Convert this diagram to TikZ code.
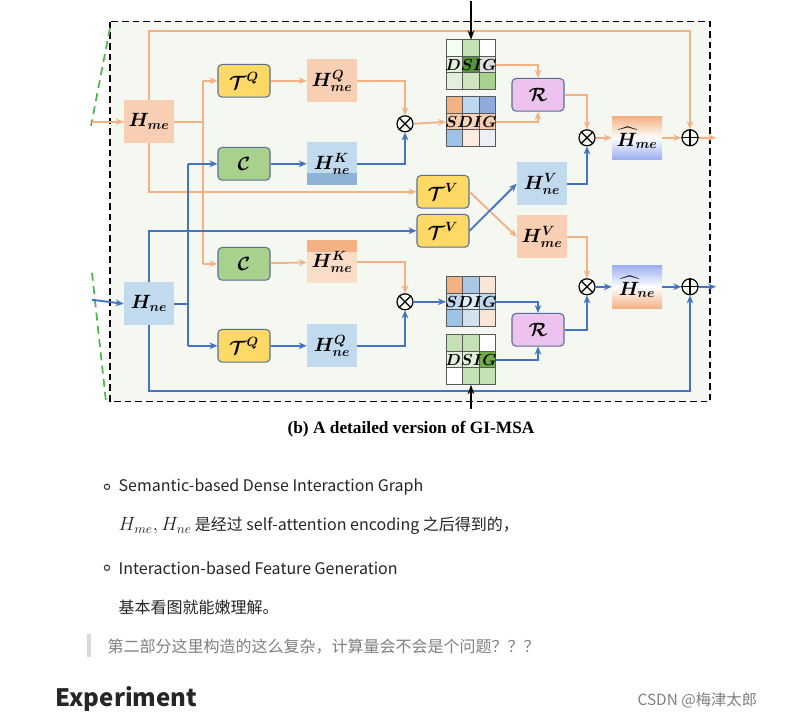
\documentclass[tikz,border=0pt]{standalone}
\usepackage{amsmath,bm}
\usepackage{fontspec}
\newfontfamily\cjk{Noto Sans CJK SC}
\newfontfamily\capf{Liberation Serif}
\usetikzlibrary{arrows.meta,calc}
\definecolor{oc}{HTML}{F4B183}
\definecolor{bc}{HTML}{4472C4}
\definecolor{bd}{HTML}{5A6F94}
\definecolor{ob}{HTML}{F8CFB2}
\definecolor{bb}{HTML}{C2DAEE}
\definecolor{bk}{HTML}{8FB3D6}
\definecolor{yb}{HTML}{FFD966}
\definecolor{gb}{HTML}{A9D18E}
\definecolor{pb}{HTML}{EEC2EE}
\definecolor{bg}{HTML}{F4F8F1}
\newcommand\mygrid[5]{%
 \node[minimum width=37.2pt,minimum height=37.2pt,inner sep=0] (#1) at (#2,#3) {};
 \foreach \c [count=\i from 0] in {#4}{%
   \pgfmathtruncatemacro\r{int(\i/3)}\pgfmathtruncatemacro\k{mod(\i,3)}%
   \fill[fill=\c,draw=gray!70!black,line width=0.5pt] ($(#1.north west)+(\k*16.5,\r*16.5)$) rectangle ++(16.5,16.5);}
 \node[font=\large] at (#1) {$\bm{#5}$};}
\begin{document}
\begin{tikzpicture}[x=0.75pt,y=-0.75pt,
 box/.style={minimum width=37.5pt,minimum height=32pt,inner sep=0,font=\Large},
 op/.style={rounded corners=3pt,draw=bd,line width=0.8pt,minimum width=39pt,minimum height=24.5pt,inner sep=0,font=\Large},
 ol/.style={draw=oc,line width=1.4pt},
 bl/.style={draw=bc,line width=1.4pt},
 oa/.style={ol,-{Stealth[length=6pt,width=5pt]}},
 ba/.style={bl,-{Stealth[length=6pt,width=5pt]}},
 ka/.style={line width=1.2pt,-{Stealth[length=7pt,width=5pt]}},
 ot/.style={circle,draw,line width=0.9pt,minimum size=12pt,inner sep=0},
 lab/.style={font=\cjk\fontsize{12}{14}\selectfont,anchor=west,text=black!85}]
\fill[white] (0,0) rectangle (793,719);
\fill[bg] (110,21) rectangle (710,401);
\draw[dashed,line width=0.9pt,dash pattern=on 5pt off 3pt] (110,21) rectangle (710,401);
\draw[green!60!black!70,dashed,line width=1.3pt,dash pattern=on 6pt off 4pt] (110,27) -- (91,125);
\draw[green!60!black!70,dashed,line width=1.3pt,dash pattern=on 6pt off 4pt] (92,272) -- (106,401);
% top half
\node[box,fill=ob] (Hme) at (149,121) {$\bm{H_{me}}$};
\node[op,fill=yb] (TQa) at (244,80) {$\bm{\mathcal{T}^Q}$};
\node[box,fill=ob] (HmeQ) at (332,80) {$\bm{H^Q_{me}}$};
\node[op,fill=gb] (Ca) at (244,163) {$\bm{\mathcal{C}}$};
\node[box,inner sep=0] (HneK) at (332,163) {};
\fill[bb] (HneK.north west) rectangle (HneK.south east);
\fill[bk] ([yshift=-7pt]HneK.west) rectangle (HneK.south east);
\node[font=\Large] at (HneK) {$\bm{H^K_{ne}}$};
\node[ot] (x1) at (405,123) {}; \draw[line width=0.9pt] (x1.45)--(x1.225) (x1.135)--(x1.315);
\mygrid{Da}{471}{64}{white!95!green,{rgb,255:red,197;green,224;blue,180},white,{rgb,255:red,226;green,239;blue,218},{rgb,255:red,84;green,150;blue,53},{rgb,255:red,222;green,222;blue,222},{rgb,255:red,226;green,239;blue,218},{rgb,255:red,208;green,228;blue,192},{rgb,255:red,169;green,209;blue,142}}{DSIG}
\mygrid{Sa}{471}{121}{{rgb,255:red,244;green,177;blue,131},{rgb,255:red,189;green,215;blue,238},{rgb,255:red,143;green,170;blue,220},{rgb,255:red,248;green,203;blue,173},{rgb,255:red,248;green,214;blue,190},{rgb,255:red,248;green,203;blue,173},{rgb,255:red,157;green,195;blue,230},{rgb,255:red,251;green,236;blue,224},{rgb,255:red,234;green,240;blue,246}}{SDIG}
\node[op,fill=pb] (Ra) at (538,94) {$\bm{\mathcal{R}}$};
\node[ot] (x2) at (587,137) {}; \draw[line width=0.9pt] (x2.45)--(x2.225) (x2.135)--(x2.315);
\node[box,top color=oc,bottom color=bb!80!blue,middle color=white] (Hmeh) at (637,137) {$\widehat{\bm{H}}_{\bm{me}}$};
\node[ot] (p1) at (690,137) {}; \draw[line width=0.9pt] (p1.north)--(p1.south) (p1.west)--(p1.east);
\node[op,fill=yb] (TVa) at (443,191) {$\bm{\mathcal{T}^V}$};
\node[op,fill=yb] (TVb) at (443,230) {$\bm{\mathcal{T}^V}$};
\node[box,fill=bb] (HneV) at (542,183) {$\bm{H^V_{ne}}$};
\node[box,fill=ob] (HmeV) at (542,236) {$\bm{H^V_{me}}$};
% bottom half
\node[box,fill=bb] (Hne) at (149,303) {$\bm{H_{ne}}$};
\node[op,fill=gb] (Cb) at (244,263) {$\bm{\mathcal{C}}$};
\node[box] (HmeK) at (332,261) {};
\fill[ob!70!white] (HmeK.north west) rectangle (HmeK.south east);
\fill[oc] (HmeK.north west) rectangle ([yshift=-9pt]HmeK.north east);
\node[font=\Large] at (HmeK) {$\bm{H^K_{me}}$};
\node[op,fill=yb] (TQb) at (244,345) {$\bm{\mathcal{T}^Q}$};
\node[box,fill=bb] (HneQ) at (332,345) {$\bm{H^Q_{ne}}$};
\node[ot] (x3) at (405,301) {}; \draw[line width=0.9pt] (x3.45)--(x3.225) (x3.135)--(x3.315);
\mygrid{Sb}{471}{301}{{rgb,255:red,244;green,177;blue,131},{rgb,255:red,170;green,200;blue,230},{rgb,255:red,251;green,229;blue,214},{rgb,255:red,189;green,215;blue,238},{rgb,255:red,222;green,235;blue,247},{rgb,255:red,189;green,215;blue,238},{rgb,255:red,157;green,195;blue,230},{rgb,255:red,210;green,225;blue,238},{rgb,255:red,251;green,229;blue,214}}{SDIG}
\mygrid{Db}{471}{359}{{rgb,255:red,197;green,224;blue,180},{rgb,255:red,197;green,224;blue,180},white,{rgb,255:red,226;green,239;blue,218},{rgb,255:red,226;green,239;blue,218},{rgb,255:red,112;green,173;blue,71},white,{rgb,255:red,197;green,224;blue,180},{rgb,255:red,197;green,224;blue,180}}{DSIG}
\node[op,fill=pb] (Rb) at (538,329) {$\bm{\mathcal{R}}$};
\node[ot] (x4) at (587,286) {}; \draw[line width=0.9pt] (x4.45)--(x4.225) (x4.135)--(x4.315);
\node[box,top color=bb!80!blue,bottom color=oc,middle color=white] (Hneh) at (637,286) {$\widehat{\bm{H}}_{\bm{ne}}$};
\node[ot] (p2) at (690,286) {}; \draw[line width=0.9pt] (p2.north)--(p2.south) (p2.west)--(p2.east);
% coordinates
\coordinate (inA) at (92,121); \coordinate (inB) at (92,299);
\coordinate (outA) at (716,137); \coordinate (outB) at (716,286);
\coordinate (ja) at (203,121); \coordinate (jb) at (188,303);
\coordinate (ktop) at (471,0); \coordinate (kbot) at (471,408);
% top connectors (orange)
\draw[oa] (inA) -- (Hme.west);
\draw[oa] (Hme.north) |- (690,30) -- (p1.north);
\draw[oa] (p1.east) -- (outA);
\draw[ol] (Hme.east) -- (ja);
\draw[ol] (ja |- TQa.west) -- (ja |- Cb.west);
\draw[oa] (ja |- TQa.west) -- (TQa.west);
\draw[oa] (ja |- Cb.west) -- (Cb.west);
\draw[oa] (TQa) -- (HmeQ);
\draw[oa] (HmeQ.east) -| (x1.north);
\draw[oa] (x1.east) -- (Sa.west);
\draw[oa] (Da.east) -| (Ra.north);
\draw[oa] (Sa.east) -| (Ra.south);
\draw[oa] (Ra.east) -| (x2.north);
\draw[oa] (x2.east) -- (Hmeh.west);
\draw[oa] (Hmeh.east) -- (p1.west);
\draw[oa] (Hme.south) |- (TVa.west);
\draw[oa] (TVa.east) -- (HmeV.west);
\draw[oa] (Cb) -- (HmeK);
\draw[oa] (HmeK.east) -| (x3.north);
\draw[oa] (HmeV.east) -| (x4.north);
% blue
\draw[ba] (inB) -- (Hne.west);
\draw[bl] (Hne.east) -- (jb);
\draw[bl] (jb |- Ca.west) -- (jb |- TQb.west);
\draw[ba] (jb |- Ca.west) -- (Ca.west);
\draw[ba] (jb |- TQb.west) -- (TQb.west);
\draw[ba] (Ca) -- (HneK);
\draw[ba] (HneK.east) -| (x1.south);
\draw[ba] (Hne.north) |- (TVb.west);
\draw[ba] (TVb.east) -- (HneV.west);
\draw[ba] (HneV.east) -| (x2.south);
\draw[ba] (TQb) -- (HneQ);
\draw[ba] (HneQ.east) -| (x3.south);
\draw[ba] (x3.east) -- (Sb.west);
\draw[ba] (Sb.east) -| (Rb.north);
\draw[ba] (Db.east) -| (Rb.south);
\draw[ba] (Rb.east) -| (x4.south);
\draw[ba] (x4.east) -- (Hneh.west);
\draw[ba] (Hneh.east) -- (p2.west);
\draw[ba] (p2.east) -- (outB);
\draw[ba] (Hne.south) |- (690,390) -- (p2.south);
\draw[ka] (ktop) -- (Da.north);
\draw[ka] (kbot) -- (Db.south);
% caption
\node[font=\capf\bfseries\fontsize{13}{15}\selectfont] (cap) at (411,428) {(b) A detailed version of GI-MSA};
% text below
\node[circle,draw=black!80,line width=0.8pt,minimum size=4pt,inner sep=0] (b1) at (107,486) {};
\node[lab] (t1) at (114,486) {Semantic-based Dense Interaction Graph};
\node[lab] (t2) at (114,525) {\fontsize{14}{16}\selectfont$H_{me},H_{ne}$\,\fontsize{12}{14}\selectfont 是经过 self-attention encoding 之后得到的，};
\node[circle,draw=black!80,line width=0.8pt,minimum size=4pt,inner sep=0] (b2) at (107,567) {};
\node[lab] (t3) at (114,567) {Interaction-based Feature Generation};
\node[lab] (t4) at (114,607) {基本看图就能嫩理解。};
\fill[black!15] (87,633) rectangle (91,656);
\node[lab,text=black!50] (t5) at (103,646) {第二部分这里构造的这么复杂，计算量会不会是个问题？？？};
\node[lab,font=\cjk\bfseries\fontsize{18}{21}\selectfont] (t6) at (51,698) {Experiment};
\node[lab,text=black!50,font=\cjk\fontsize{11.5}{13}\selectfont] (t7) at (633,700) {CSDN @梅津太郎};
\end{tikzpicture}
\end{document}
